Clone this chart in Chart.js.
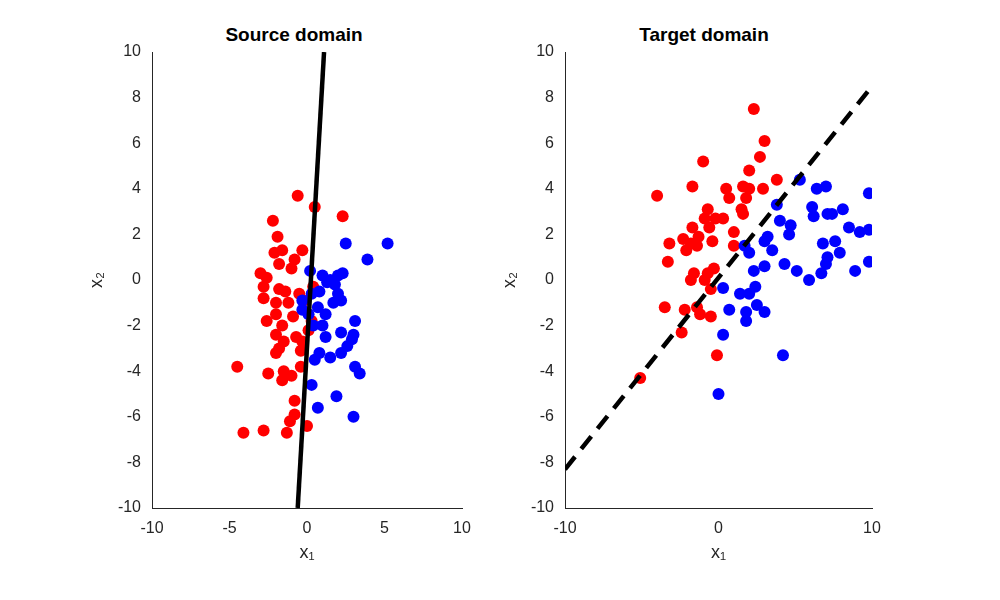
<!DOCTYPE html>
<html><head><meta charset="utf-8">
<script src="https://cdn.jsdelivr.net/npm/chart.js@4"></script>
<style>body{margin:0;background:#fff;width:1000px;height:600px;position:relative;overflow:hidden;font-family:"Liberation Sans",Arial,sans-serif}
canvas{position:absolute;left:0;top:0}
.t{position:absolute;top:24px;font-weight:bold;font-size:19px;color:#000;transform:translateX(-50%)}</style>
</head><body>
<div class="t" style="left:294px">Source domain</div>
<div class="t" style="left:704px">Target domain</div>
<div style="position:absolute;left:0;top:0;width:1000px;height:600px"><canvas id="c1"></canvas></div>
<div style="position:absolute;left:0;top:0;width:1000px;height:600px"><canvas id="c2"></canvas></div>
<script>
const srcRed=[[-0.6,3.7],[0.5,3.2],[2.3,2.8],[-2.2,2.6],[-1.9,1.9],[-1.6,1.3],[-2.1,1.2],[-0.3,1.3],[-0.8,0.9],[-1.0,0.5],[-1.8,0.7],[-3.0,0.3],[-2.6,0.1],[-2.8,-0.3],[-1.8,-0.4],[-1.4,-0.5],[-2.8,-0.8],[-2.0,-1.0],[-1.2,-1.0],[-0.5,-0.6],[-2.0,-1.5],[-0.2,-0.9],[-2.6,-1.8],[-1.6,-2.0],[-0.9,-1.6],[-2.0,-2.4],[-1.5,-2.7],[-0.7,-2.5],[0.1,-2.2],[-2.0,-3.2],[-1.8,-3.0],[-0.4,-3.1],[-4.5,-3.8],[-2.5,-4.1],[-1.5,-4.0],[-1.6,-4.4],[-1.0,-4.2],[-0.4,-3.8],[-0.8,-5.3],[-1.1,-6.2],[-0.8,-5.9],[-1.3,-6.7],[-2.8,-6.6],[-4.1,-6.7],[0.0,-6.4],[0.3,-1.8],[-0.3,-2.7],[0.4,-0.3]];
const srcBlue=[[0.2,0.4],[1.0,0.2],[1.5,0.0],[2.0,0.2],[2.3,0.3],[2.5,1.6],[3.9,0.9],[5.2,1.6],[1.8,-0.2],[0.8,-0.5],[1.3,-0.1],[0.3,-0.6],[-0.3,-0.9],[0.7,-1.2],[1.7,-1.0],[2.2,-0.9],[2.0,-0.6],[1.2,-1.5],[0.1,-1.5],[-0.3,-1.3],[1.0,-2.0],[3.1,-1.8],[2.2,-2.3],[3.0,-2.4],[2.9,-2.6],[2.6,-2.9],[1.2,-2.5],[0.4,-2.0],[2.2,-3.2],[0.8,-3.2],[1.5,-3.4],[3.1,-3.8],[3.4,-4.1],[0.3,-4.6],[1.9,-5.1],[0.7,-5.6],[3.0,-6.0],[0.5,-3.5]];
const srcLine=[[-0.6,-10],[1.1,10]];
const tgtRed=[[2.3,7.5],[3.0,6.1],[2.7,5.4],[-1.0,5.2],[2.0,4.8],[-4.0,3.7],[-1.7,4.1],[0.5,4.0],[0.7,3.6],[1.6,4.1],[2.0,4.0],[1.8,3.6],[2.9,4.0],[3.8,4.4],[1.5,3.1],[1.6,2.9],[-0.7,3.1],[0.3,2.7],[-0.2,2.7],[-0.9,2.7],[-0.6,2.3],[-1.7,2.3],[-1.3,1.9],[-0.4,1.7],[1.0,2.1],[-2.3,1.8],[-1.8,1.6],[-1.4,1.5],[-3.2,1.6],[-2.1,1.3],[1.0,1.5],[-3.3,0.8],[-0.3,0.5],[-0.7,0.3],[-1.6,0.3],[-1.8,0.0],[-0.9,0.0],[-0.5,-0.4],[-3.5,-1.2],[-2.2,-1.3],[-1.4,-1.2],[-1.2,-1.5],[-0.5,-1.6],[-2.4,-2.3],[-0.1,-3.3],[-5.1,-4.3]];
const tgtBlue=[[0.3,-0.35],[0.7,-1.3],[1.8,-1.4],[1.8,-1.8],[2.5,-1.1],[3.0,-1.4],[0.3,-2.4],[4.2,-3.3],[0.0,-5.0],[1.4,-0.6],[2.0,-0.6],[2.4,-0.3],[2.3,0.4],[3.0,0.6],[4.3,0.7],[5.1,0.4],[5.9,0.0],[6.7,0.3],[7.0,0.7],[7.1,1.0],[7.9,1.2],[8.9,0.4],[9.8,0.8],[6.8,1.6],[7.6,1.7],[8.5,2.3],[9.2,2.1],[9.8,2.2],[8.1,3.1],[7.1,2.9],[7.4,2.9],[6.1,3.2],[6.2,2.8],[6.4,4.0],[7.0,4.1],[5.3,4.4],[9.8,3.8],[3.8,3.3],[4.0,2.6],[4.7,2.4],[4.6,2.0],[3.2,1.9],[3.0,1.7],[3.5,1.3],[1.7,1.5],[2.0,1.2]];
const tgtLine=[[-10,-8.3],[10,8.5]];
const xTicks=[-10,-5,0,5,10], xTicksT=[-10,0,10];
const pts=a=>a.map(p=>({x:p[0],y:p[1]}));
function mk(id,red,blue,line,dash,xt,padL,padR){
 const tk={color:'#262626',font:{size:16,family:'Liberation Sans'}};
 new Chart(document.getElementById(id),{type:'scatter',
  data:{datasets:[
   {data:pts(line),showLine:true,borderColor:'#000',borderWidth:4.5,borderDash:dash,pointRadius:0,order:0},
   {data:pts(red),backgroundColor:'#ff0000',borderWidth:0,pointRadius:6,order:2},
   {data:pts(blue),backgroundColor:'#0000ff',borderWidth:0,pointRadius:6,order:1}]},
  options:{responsive:true,maintainAspectRatio:false,animation:false,
   layout:{padding:{left:padL,right:padR,top:52,bottom:32}},
   plugins:{legend:{display:false},tooltip:{enabled:false}},
   scales:{
    x:{type:'linear',min:-10,max:10,afterBuildTicks:s=>{s.ticks=xt.map(v=>({value:v}))},
       afterFit:s=>{s.height=60},ticks:tk,grid:{display:false},border:{color:'#262626',width:1},
       title:{display:true,text:'x₁',color:'#262626',font:{size:18,family:'Liberation Sans'},padding:{top:4}}},
    y:{type:'linear',min:-10,max:10,afterBuildTicks:s=>{s.ticks=[-10,-8,-6,-4,-2,0,2,4,6,8,10].map(v=>({value:v}))},
       afterFit:s=>{s.width=70},ticks:tk,grid:{display:false},border:{color:'#262626',width:1},
       title:{display:true,text:'x₂',color:'#262626',font:{size:18,family:'Liberation Sans'}}}}}});
}
mk('c1',srcRed,srcBlue,srcLine,[],xTicks,82,538);
mk('c2',tgtRed,tgtBlue,tgtLine,[16,10],xTicksT,495,128);
</script></body></html>
